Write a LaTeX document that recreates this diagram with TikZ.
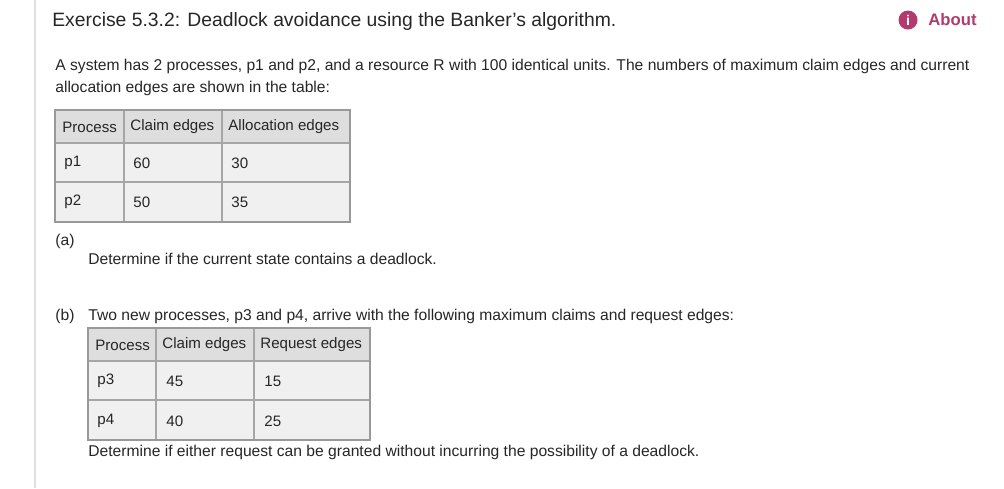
\documentclass[tikz,border=0pt]{standalone}
\usepackage{fontspec}
\setmainfont{Liberation Sans}
\begin{document}
\begin{tikzpicture}[x=0.02cm,y=-0.02cm,
  txt/.style={anchor=west,inner sep=0pt,font=\fontsize{8.9}{11}\selectfont,text=black!85},
  cell/.style={anchor=west,inner sep=0pt,font=\fontsize{8.6}{10}\selectfont,text=black!85},
  hd/.style={fill=black!13,draw=black!35,line width=0.6pt},
  bd/.style={fill=black!6,draw=black!35,line width=0.6pt}]
\useasboundingbox (0,0) rectangle (1004,488);
\draw[black!12,line width=1.2pt] (35,0) -- (35,488);
\node[txt,font=\fontsize{11}{13}\selectfont] (title) at (52,21) {Exercise 5.3.2: Deadlock avoidance using the Banker{\char"27}s algorithm.};
\definecolor{about}{HTML}{B23A6E}
\fill[about] (908,20) circle (9.5);
\node[inner sep=0pt,text=white,font=\bfseries\fontsize{8}{9}\selectfont] (icon) at (908,20) {i};
\node[txt,text=about,font=\bfseries\fontsize{9.5}{11}\selectfont] (about) at (928,20) {About};
\node[txt] (p1) at (55,66) {A system has 2 processes, p1 and p2, and a resource R with 100 identical units. The numbers of maximum claim edges and current};
\node[txt] (p2) at (55,88) {allocation edges are shown in the table:};
% table 1
\draw[hd] (55,110) rectangle (124,143); \draw[hd] (124,110) rectangle (222,143); \draw[hd] (222,110) rectangle (350,143);
\draw[bd] (55,143) rectangle (124,182); \draw[bd] (124,143) rectangle (222,182); \draw[bd] (222,143) rectangle (350,182);
\draw[bd] (55,182) rectangle (124,222); \draw[bd] (124,182) rectangle (222,222); \draw[bd] (222,182) rectangle (350,222);
\draw[black!40,line width=1.2pt] (55,110) rectangle (350,222);
\node[cell] (a1) at (62,127) {Process}; \node[cell] (a2) at (130,127) {Claim edges}; \node[cell] (a3) at (228,127) {Allocation edges};
\node[cell] (b1) at (64,163) {p1}; \node[cell] (b2) at (133,163) {60}; \node[cell] (b3) at (231,163) {30};
\node[cell] (c1) at (64,202) {p2}; \node[cell] (c2) at (133,202) {50}; \node[cell] (c3) at (231,202) {35};
\node[txt] (qa) at (55,241) {(a)};
\node[txt] (qat) at (88,259) {Determine if the current state contains a deadlock.};
\node[txt] (qb) at (55,316) {(b)};
\node[txt] (qbt) at (88,316) {Two new processes, p3 and p4, arrive with the following maximum claims and request edges:};
% table 2
\draw[hd] (88,328) rectangle (156,361); \draw[hd] (156,328) rectangle (254,361); \draw[hd] (254,328) rectangle (370,361);
\draw[bd] (88,361) rectangle (156,400); \draw[bd] (156,361) rectangle (254,400); \draw[bd] (254,361) rectangle (370,400);
\draw[bd] (88,400) rectangle (156,440); \draw[bd] (156,400) rectangle (254,440); \draw[bd] (254,400) rectangle (370,440);
\draw[black!40,line width=1.2pt] (88,328) rectangle (370,440);
\node[cell] (d1) at (95,345) {Process}; \node[cell] (d2) at (162,345) {Claim edges}; \node[cell] (d3) at (260,345) {Request edges};
\node[cell] (e1) at (97,381) {p3}; \node[cell] (e2) at (166,381) {45}; \node[cell] (e3) at (264,381) {15};
\node[cell] (f1) at (97,421) {p4}; \node[cell] (f2) at (166,421) {40}; \node[cell] (f3) at (264,421) {25};
\node[txt] (qbe) at (88,452) {Determine if either request can be granted without incurring the possibility of a deadlock.};
\end{tikzpicture}
\end{document}
